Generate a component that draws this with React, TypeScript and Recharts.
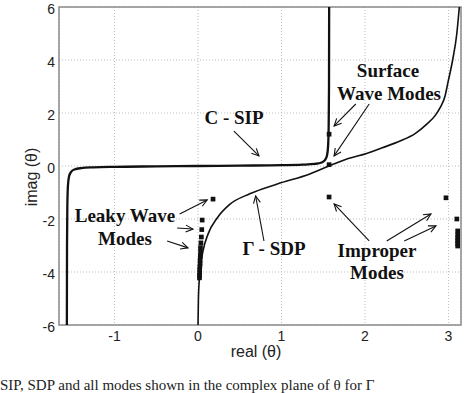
import {
  CartesianGrid,
  ComposedChart,
  Line,
  ReferenceArea,
  ReferenceLine,
  Scatter,
  XAxis,
  YAxis,
  ZAxis
} from "recharts";

// axis setup
const xTicks = [-1, 0, 1, 2, 3];
const yTicks = [-6, -4, -2, 0, 2, 4, 6];
const xDomain: [number, number] = [-1.665, 3.15];
const yDomain: [number, number] = [-6, 6];

// C - SIP contour (real, imag)
const sipPath: [number, number][] = [
  [-1.5708, -6], [-1.569, -3], [-1.565, -1.5], [-1.558, -0.75], [-1.545, -0.4],
  [-1.52, -0.22], [-1.48, -0.13], [-1.4, -0.08], [-1.25, -0.05], [-1.0, -0.03],
  [-0.5, -0.015], [0, 0], [0.5, 0.015], [1.0, 0.03], [1.25, 0.05], [1.4, 0.08],
  [1.48, 0.13], [1.52, 0.22], [1.545, 0.4], [1.558, 0.75], [1.565, 1.5],
  [1.569, 3], [1.5708, 6]
];

// Γ - SDP contour
const sdpPath: [number, number][] = [
  [0.0, -6], [0.005, -5], [0.012, -4.45], [0.03, -3.8], [0.06, -3.2],
  [0.12, -2.57], [0.23, -1.96], [0.38, -1.45], [0.62, -1.05], [0.95, -0.68],
  [1.34, -0.3], [1.5708, 0], [1.8, 0.28], [2.02, 0.47], [2.2, 0.68],
  [2.42, 0.94], [2.6, 1.22], [2.74, 1.58], [2.84, 1.9], [2.9, 2.2],
  [2.96, 2.65], [2.99, 3.1], [3.05, 4.0], [3.1, 5.0], [3.13, 6]
];

// poles
const surfaceModes: [number, number][] = [[1.57, 1.2], [1.57, 0.05]];
const leakyModes: [number, number][] = [
  [0.18, -1.25], [0.05, -2.04], [0.045, -2.4], [0.04, -2.68], [0.035, -2.9],
  [0.03, -3.08], [0.03, -3.24], [0.028, -3.4], [0.025, -3.55], [0.025, -3.68],
  [0.022, -3.8], [0.02, -3.92], [0.02, -4.03], [0.018, -4.13], [0.018, -4.22]
];
const improperModes: [number, number][] = [
  [1.57, -1.17], [2.97, -1.2], [3.1, -2.0], [3.11, -2.45], [3.11, -2.6],
  [3.11, -2.72], [3.11, -2.82], [3.11, -2.92], [3.11, -3.02]
];

// annotation arrows: from (x, y) to (x, y), data units
const arrows: [number, number, number, number][] = [
  [0.43, 1.32, 0.73, 0.38],
  [1.89, 2.34, 1.63, 1.51],
  [2.05, 2.34, 1.63, 0.38],
  [-0.22, -1.81, 0.11, -1.28],
  [-0.25, -2.34, -0.06, -2.38],
  [-0.37, -2.83, -0.12, -3.09],
  [0.79, -2.83, 0.69, -1.13],
  [2.05, -2.83, 1.63, -1.43],
  [2.26, -2.83, 2.79, -1.81],
  [2.47, -2.83, 2.85, -2.26]
];

const notes = [
  { text: "C - SIP", left: 234, top: 117 },
  { text: "Surface", left: 388, top: 70 },
  { text: "Wave Modes", left: 389, top: 93 },
  { text: "Leaky Wave", left: 125, top: 215 },
  { text: "Modes", left: 125, top: 238 },
  { text: "Γ - SDP", left: 274, top: 248 },
  { text: "Improper", left: 377, top: 250 },
  { text: "Modes", left: 377, top: 272 }
];

const toPoints = (rows: [number, number][]) => rows.map(([x, y]) => ({ x, y }));

function Arrow(props: any) {
  const { x1, y1, x2, y2 } = props;
  const a = Math.atan2(y2 - y1, x2 - x1);
  const len = 8;
  const spread = 0.45;
  const h1x = x2 - len * Math.cos(a - spread);
  const h1y = y2 - len * Math.sin(a - spread);
  const h2x = x2 - len * Math.cos(a + spread);
  const h2y = y2 - len * Math.sin(a + spread);
  return (
    <g stroke="#111" strokeWidth={1.1} fill="none">
      <line x1={x1} y1={y1} x2={x2} y2={y2} />
      <polyline points={`${h1x},${h1y} ${x2},${y2} ${h2x},${h2y}`} />
    </g>
  );
}

const tickStyle = { fontSize: 14, fill: "#222", fontFamily: "Liberation Sans, Arial, sans-serif" };

export default function App() {
  return (
    <div
      style={{
        position: "absolute",
        left: 0,
        top: 0,
        width: 474,
        height: 393,
        background: "#fff",
        overflow: "hidden"
      }}
    >
      <ComposedChart width={474} height={393} margin={{ top: 7, right: 13, bottom: 0, left: 0 }}>
        <CartesianGrid stroke="#bdbdbd" strokeDasharray="1 2" />
        <XAxis
          type="number"
          dataKey="x"
          domain={xDomain}
          ticks={xTicks}
          interval={0}
          allowDataOverflow
          height={68}
          tickSize={0}
          tickMargin={6}
          axisLine={false}
          tick={tickStyle}
        />
        <YAxis
          type="number"
          dataKey="y"
          domain={yDomain}
          ticks={yTicks}
          interval={0}
          allowDataOverflow
          width={59}
          tickSize={0}
          tickMargin={4}
          axisLine={false}
          tick={{ ...tickStyle, dy: 2 }}
        />
        <ZAxis range={[22, 22]} />
        <ReferenceArea
          x1={xDomain[0]}
          x2={xDomain[1]}
          y1={yDomain[0]}
          y2={yDomain[1]}
          fill="none"
          stroke="#8a8a8a"
          strokeWidth={1.5}
        />
        <Line
          data={toPoints(sipPath)}
          dataKey="y"
          type="monotone"
          stroke="#111"
          strokeWidth={2.3}
          dot={false}
          isAnimationActive={false}
        />
        <Line
          data={toPoints(sdpPath)}
          dataKey="y"
          type="monotone"
          stroke="#111"
          strokeWidth={1.6}
          dot={false}
          isAnimationActive={false}
        />
        <Scatter data={toPoints(surfaceModes)} dataKey="y" fill="#111" shape="square" isAnimationActive={false} />
        <Scatter data={toPoints(leakyModes)} dataKey="y" fill="#111" shape="square" isAnimationActive={false} />
        <Scatter data={toPoints(improperModes)} dataKey="y" fill="#111" shape="square" isAnimationActive={false} />
        {arrows.map(([ax, ay, bx, by], i) => (
          <ReferenceLine
            key={i}
            segment={[
              { x: ax, y: ay },
              { x: bx, y: by }
            ]}
            shape={Arrow}
          />
        ))}
      </ComposedChart>

      {notes.map((n, i) => (
        <div
          key={i}
          style={{
            position: "absolute",
            left: n.left,
            top: n.top,
            transform: "translate(-50%, -50%)",
            fontFamily: "Liberation Serif, Times New Roman, serif",
            fontWeight: "bold",
            fontSize: 19,
            whiteSpace: "nowrap",
            color: "#111",
            lineHeight: 1
          }}
        >
          {n.text}
        </div>
      ))}

      <div
        style={{
          position: "absolute",
          left: 256,
          top: 352,
          transform: "translate(-50%, -50%)",
          fontFamily: "Liberation Sans, Arial, sans-serif",
          fontSize: 16,
          color: "#222",
          whiteSpace: "nowrap",
          lineHeight: 1
        }}
      >
        real (θ)
      </div>
      <div
        style={{
          position: "absolute",
          left: 32,
          top: 177,
          transform: "translate(-50%, -50%) rotate(-90deg)",
          fontFamily: "Liberation Sans, Arial, sans-serif",
          fontSize: 16,
          color: "#222",
          whiteSpace: "nowrap",
          lineHeight: 1
        }}
      >
        imag (θ)
      </div>
      <div
        style={{
          position: "absolute",
          left: 0,
          top: 378,
          fontFamily: "Liberation Serif, Times New Roman, serif",
          fontSize: 15,
          color: "#222",
          whiteSpace: "nowrap",
          lineHeight: 1
        }}
      >
        SIP, SDP and all modes shown in the complex plane of θ for Γ
      </div>
    </div>
  );
}
